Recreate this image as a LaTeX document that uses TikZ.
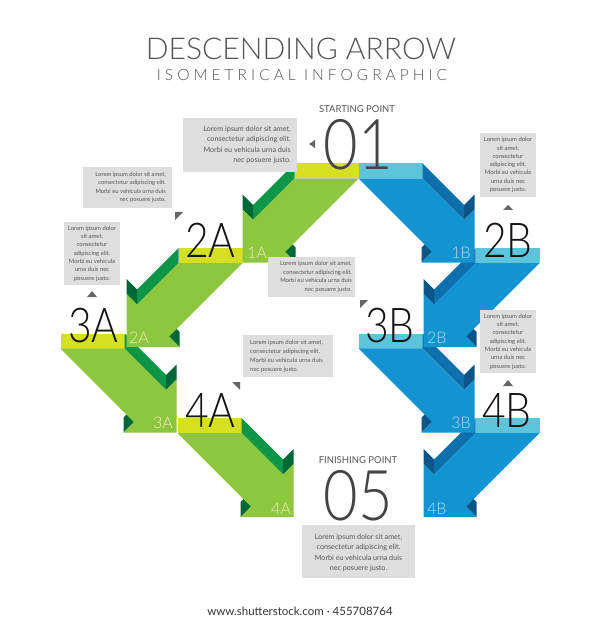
\documentclass[tikz,border=0pt]{standalone}
\usepackage{fontspec}
\setmainfont{Lato}
\IfFontExistsTF{Lato Light}{%
  \newfontfamily\thinf{Lato Light}%
  \newfontfamily\spacedf{Lato Light}[LetterSpace=26]}{%
  \newfontfamily\thinf{Lato}%
  \newfontfamily\spacedf{Lato}[LetterSpace=26]}
\definecolor{gBody}{HTML}{8DC63F}
\definecolor{gTop}{HTML}{D7DF23}
\definecolor{gStrip}{HTML}{0D9648}
\definecolor{gNotch}{HTML}{006837}
\definecolor{gLab}{HTML}{EEF2B8}
\definecolor{bBody}{HTML}{1393D0}
\definecolor{bTop}{HTML}{5CC4DB}
\definecolor{bStrip}{HTML}{0E6FAD}
\definecolor{bNotch}{HTML}{0B5589}
\definecolor{bLab}{HTML}{B0E0F2}
\definecolor{boxgray}{HTML}{DEDEDE}
\definecolor{txtgray}{HTML}{555555}
\definecolor{ptrgray}{HTML}{666666}
\definecolor{headgray}{HTML}{555555}
% isometric arrow: #1 tail centre x, #2 tail y, #3 direction (1 down-right, -1 down-left), #4 colour prefix
\newcommand{\isoarrow}[4]{%
  \begin{scope}[shift={(#1,#2)},xscale=#3]
    \fill[#4Notch] (41.5,73.5) -- (31,84) -- (31,69) -- (41.5,58.5) -- cycle;
    \fill[#4Top] (-32,0) -- (32,0) -- (32,-15) -- (-32,-15) -- cycle;
    \fill[#4Strip] (32,0) -- (73.5,41.5) -- (73.5,26.5) -- (32,-15) -- cycle;
    \fill[#4Notch] (73.5,41.5) -- (84,31) -- (84,16) -- (73.5,26.5) -- cycle;
    \fill[#4Body] (-32,0) -- (32,0) -- (73.5,41.5) -- (84,31) -- (84,84) -- (31,84) -- (41.5,73.5) -- cycle;
  \end{scope}}
\tikzset{
  boxtxt/.style={inner sep=0pt,text=txtgray},
  graybox/.style={fill=boxgray},
  bignum/.style={inner sep=0pt,anchor=base west,xscale=0.85,text=black!92,font=\thinf\fontsize{48}{48}\selectfont},
  hugenum/.style={inner sep=0pt,anchor=base,xscale=0.85,text depth=0pt,text=headgray!80!black,font=\thinf\fontsize{70}{70}\selectfont},
  smalllab/.style={inner sep=0pt,font=\thinf\fontsize{16}{16}\selectfont},
  ptr/.style={fill=ptrgray},
  caption/.style={inner sep=0pt,anchor=base,text=headgray,font=\fontsize{9.5}{9.5}\selectfont}
}
\newcommand{\loremfour}{Lorem ipsum dolor sit amet,\\consectetur adipiscing elit.\\Morbi eu vehicula urna duis\\nec posuere justo.}
\newcommand{\loremseven}{Lorem ipsum dolor\\sit amet,\\consectetur\\adipiscing elit.\\Morbi eu vehicula\\urna duis nec\\posuere justo.}
\begin{document}
\begin{tikzpicture}[x=1pt,y=-1pt]
\useasboundingbox (0,0) rectangle (600,620);
\fill[white] (0,0) rectangle (600,620);
% arrows, last first so that earlier ones lie on top
\isoarrow{507.5}{433}{-1}{b}
\isoarrow{209.5}{433}{1}{g}
\isoarrow{390.5}{348.5}{1}{b}
\isoarrow{92.5}{348.5}{1}{g}
\isoarrow{507.5}{263}{-1}{b}
\isoarrow{210.5}{263}{-1}{g}
\isoarrow{390.5}{178.5}{1}{b}
\isoarrow{326.5}{178.5}{-1}{g}
% title
\node[inner sep=0pt,anchor=base,text=headgray,font=\thinf\fontsize{30}{30}\selectfont] (title) at (301,60) {DESCENDING ARROW};
\node[inner sep=0pt,anchor=base,text=headgray,font=\spacedf\fontsize{15.5}{15.5}\selectfont] (subtitle) at (302,81) {ISOMETRICAL INFOGRAPHIC};
% start
\node[caption] (startcap) at (357,113) {STARTING POINT};
\node[hugenum] (n01) at (358,170) {01};
\fill[ptr] (309,144) -- (315,140) -- (315,148) -- cycle;
\fill[graybox] (183,118) rectangle (297,172);
\node[boxtxt,align=right,anchor=east,font=\fontsize{7.2}{10.2}\selectfont] (t1) at (291,145) {\loremfour};
% 2A
\fill[graybox] (83,167) rectangle (172,208);
\node[boxtxt,align=right,anchor=east,font=\fontsize{5.8}{8.4}\selectfont] (t2a) at (166,187.5) {\loremfour};
\fill[ptr] (175,212) -- (183,212) -- (175,220) -- cycle;
\node[bignum] (l2a) at (185,257) {2A};
% 3A
\fill[graybox] (64,222) rectangle (120,285);
\node[boxtxt,align=center,font=\fontsize{5.9}{8.3}\selectfont] (t3a) at (92,253.5) {\loremseven};
\fill[ptr] (87,297) -- (97,297) -- (92,291) -- cycle;
\node[bignum] (l3a) at (68,342) {3A};
% 3B
\fill[graybox] (268,257) rectangle (355,297);
\node[boxtxt,align=right,anchor=east,font=\fontsize{5.9}{8.5}\selectfont] (t3b) at (352,277) {\loremfour};
\fill[ptr] (360,300) -- (368,300) -- (360,308) -- cycle;
\node[bignum] (l3b) at (365,342) {3B};
% 4A
\fill[graybox] (243,335) rectangle (333,377);
\node[boxtxt,align=left,anchor=west,font=\fontsize{6}{9}\selectfont] (t4a) at (250,356) {\loremfour};
\fill[ptr] (232,382) -- (240,382) -- (240,390) -- cycle;
\node[bignum] (l4a) at (185,427) {4A};
% 2B
\fill[graybox] (480,133) rectangle (536,197);
\node[boxtxt,align=center,font=\fontsize{5.9}{8.3}\selectfont] (t2b) at (508,165) {\loremseven};
\fill[ptr] (503,210) -- (513,210) -- (508,205) -- cycle;
\node[bignum] (l2b) at (483,257) {2B};
% 4B
\fill[graybox] (480,310) rectangle (536,373);
\node[boxtxt,align=center,font=\fontsize{5.9}{8.3}\selectfont] (t4b) at (508,341.5) {\loremseven};
\fill[ptr] (503,386) -- (513,386) -- (508,380) -- cycle;
\node[bignum] (l4b) at (482,427) {4B};
% finish
\node[caption] (fincap) at (358,463) {FINISHING POINT};
\node[hugenum] (n05) at (358,520) {05};
\fill[graybox] (302,525) rectangle (415,578);
\node[boxtxt,align=center,font=\fontsize{7.2}{10.3}\selectfont] (t5) at (358.5,553) {\loremfour};
% small labels on arrow heads
\node[smalllab,text=gLab,anchor=base west] (s1a) at (247,258) {1A};
\node[smalllab,text=gLab,anchor=base west] (s2a) at (129,343) {2A};
\node[smalllab,text=gLab,anchor=base east] (s3a) at (173,428) {3A};
\node[smalllab,text=gLab,anchor=base east] (s4a) at (291,514) {4A};
\node[smalllab,text=bLab,anchor=base east] (s1b) at (471,258) {1B};
\node[smalllab,text=bLab,anchor=base west] (s2b) at (427,343) {2B};
\node[smalllab,text=bLab,anchor=base east] (s3b) at (471,428) {3B};
\node[smalllab,text=bLab,anchor=base west] (s4b) at (427,514) {4B};
% footer
\node[inner sep=0pt,anchor=base,text=black!80,font=\fontsize{11.5}{11.5}\selectfont] (footer) at (300,615) {www.shutterstock.com · 455708764};
\end{tikzpicture}
\end{document}
